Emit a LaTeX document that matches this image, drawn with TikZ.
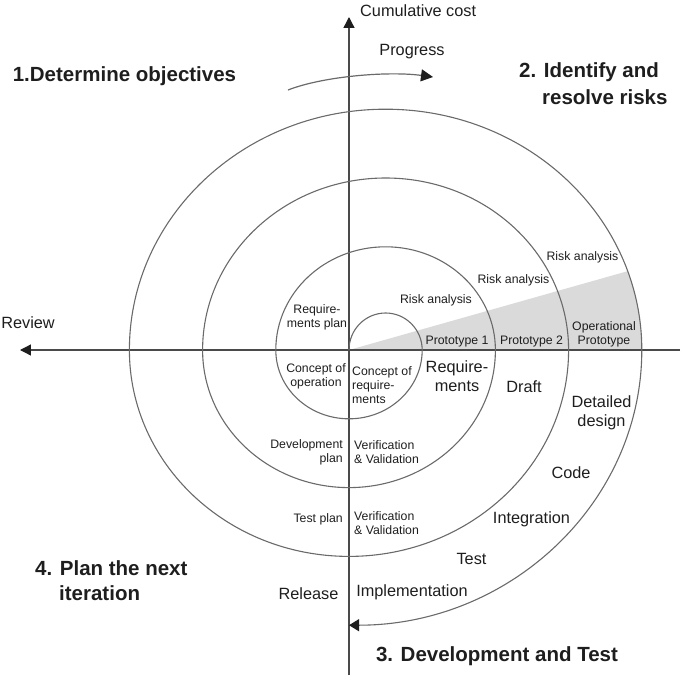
\documentclass[tikz,border=0pt]{standalone}
\usepackage{fontspec}
\setmainfont{Liberation Sans}
\usetikzlibrary{arrows.meta}
\definecolor{txt}{HTML}{1E1E1E}
\definecolor{axiscol}{HTML}{4A4A4A}
\definecolor{spiralcol}{HTML}{6A6A6A}
\definecolor{shadecol}{HTML}{DADADA}
\definecolor{tipcol}{HTML}{1E1E1E}
\begin{document}
\begin{tikzpicture}[x=1pt,y=1pt,
  sm/.style={font=\fontsize{12.3}{14}\selectfont, text=txt, inner sep=0pt},
  lg/.style={font=\fontsize{16.3}{19}\selectfont, text=txt, inner sep=0pt},
  bd/.style={font=\fontsize{20.5}{25}\selectfont\bfseries, text=txt, inner sep=0pt},
  axisline/.style={draw=axiscol, line width=1.3pt, -{Triangle[length=11pt,width=11pt,color=tipcol]}},
  spiralline/.style={draw=spiralcol, line width=1.1pt},
  spiraltip/.style={-{Triangle[length=10pt,width=12pt,color=tipcol]}},
  progline/.style={draw=spiralcol, line width=1.2pt, -{Triangle[length=12pt,width=12pt,color=tipcol]}}
]
\useasboundingbox (-349,-331) rectangle (336,350);

% shaded wedge
\begin{scope}
  \clip (0,0) -- (15.8:420) -- (420,0) -- cycle;
  \fill[shadecol] (36.6,0) ellipse [x radius=256.2, y radius=240.8];
\end{scope}

% axes
\coordinate (O) at (0,0);
\coordinate (ytop) at (0,333);
\coordinate (ybot) at (0,-325);
\coordinate (xleft) at (-329,0);
\coordinate (xright) at (331,0);
\draw[axisline] (ybot) -- (ytop);
\draw[axisline] (xright) -- (xleft);

% spiral
\draw[spiralline, spiraltip] (O)
  arc[start angle=180, end angle=0,   x radius=36.6,  y radius=37]
  arc[start angle=0,   end angle=-180, x radius=73.2,  y radius=68.8]
  arc[start angle=180, end angle=0,   x radius=109.8, y radius=103.2]
  arc[start angle=0,   end angle=-180, x radius=146.4, y radius=137.6]
  arc[start angle=180, end angle=0,   x radius=183,   y radius=172]
  arc[start angle=0,   end angle=-180, x radius=219.6, y radius=206.4]
  arc[start angle=180, end angle=0,   x radius=256.2, y radius=240.8]
  arc[start angle=0,   end angle=-90,  x radius=292.8, y radius=275.2];

% progress arrow
\coordinate (pgs) at (-61,260);
\coordinate (pge) at (84,273);
\draw[progline] (pgs) .. controls (-25,274) and (40,279) .. (pge);

% axis and header labels
\node[lg, anchor=west] (cumcost) at (11,339) {Cumulative cost};
\node[lg] (progress) at (63,298) {Progress};
\node[lg] (review) at (-321,27) {Review};

% quadrant titles
\node[bd] (t1) at (-224.5,274) {1.Determine objectives};
\node[bd, anchor=west] (t2a) at (170,278) {2. Identify and};
\node[bd, anchor=west] (t2b) at (193,253) {resolve risks};
\node[bd, anchor=west] (t4a) at (-314,-218) {4. Plan the next};
\node[bd, anchor=west] (t4b) at (-290,-243) {iteration};
\node[bd] (t3) at (148,-306) {3. Development and Test};

% small labels
\node[sm] (ra1) at (87,50) {Risk analysis};
\node[sm] (ra2) at (164.5,70) {Risk analysis};
\node[sm] (ra3) at (233.5,93) {Risk analysis};
\node[sm, align=center] (rp) at (-32,32.5) {Require-\\ments plan};
\node[sm] (p1) at (108,8) {Prototype 1};
\node[sm] (p2) at (182.5,9) {Prototype 2};
\node[sm, align=center] (op) at (255,16) {Operational\\Prototype};
\node[sm, align=center] (co) at (-33,-26) {Concept of\\operation};
\node[sm, align=left, anchor=west] (cr) at (3,-35) {Concept of\\require-\\ments};
\node[sm, align=right, anchor=east] (dp) at (-6,-102.5) {Development\\plan};
\node[sm, align=left, anchor=west] (vv1) at (5,-102.5) {Verification\\\& Validation};
\node[sm, anchor=east] (tp) at (-6,-169) {Test plan};
\node[sm, align=left, anchor=west] (vv2) at (5,-173) {Verification\\\& Validation};

% large labels
\node[lg, align=center] (req) at (108,-26.5) {Require-\\ments};
\node[lg] (draft) at (175,-37) {Draft};
\node[lg, align=center] (dd) at (252.5,-63) {Detailed\\design};
\node[lg] (code) at (222,-123) {Code};
\node[lg] (integ) at (182.5,-169) {Integration};
\node[lg] (test) at (122.5,-209) {Test};
\node[lg] (impl) at (63,-242) {Implementation};
\node[lg] (rel) at (-40.5,-244) {Release};
\end{tikzpicture}
\end{document}
